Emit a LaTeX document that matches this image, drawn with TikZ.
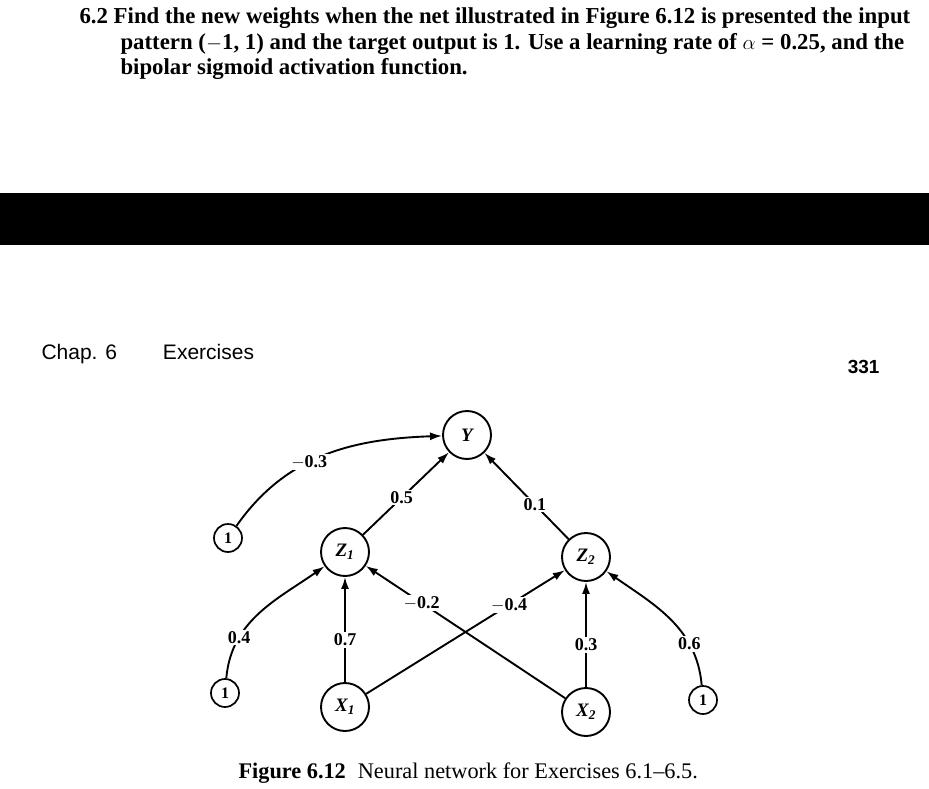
\documentclass[tikz,border=0pt]{standalone}
\usepackage{fontspec}
\setmainfont{Liberation Serif}
\newfontfamily\chapfont{Liberation Sans}
\usetikzlibrary{arrows.meta}
\begin{document}
\begin{tikzpicture}[x=1pt,y=-1pt,
  neuron/.style={circle,draw,line width=1.9pt,minimum size=48pt,inner sep=0pt,font=\fontsize{19}{19}\selectfont\bfseries\itshape},
  bias/.style={circle,draw,line width=1.7pt,minimum size=28pt,inner sep=0pt,font=\fontsize{16}{16}\selectfont\bfseries},
  wire/.style={line width=1.9pt,-{Latex[length=12pt,width=8pt]}},
  wl/.style={fill=white,inner sep=1.5pt,font=\fontsize{18}{18}\selectfont\bfseries}]
\useasboundingbox (0,0) rectangle (929,789);
\fill[black] (0,193) rectangle (929,245);
\node[anchor=west,font=\fontsize{22.8}{22.8}\selectfont\bfseries] at (76,18) {6.2 Find the new weights when the net illustrated in Figure 6.12 is presented the input};
\node[anchor=west,font=\fontsize{22.8}{22.8}\selectfont\bfseries] at (117,44) {pattern ($-$1, 1) and the target output is 1. Use a learning rate of $\alpha$ = 0.25, and the};
\node[anchor=west,font=\fontsize{22.8}{22.8}\selectfont\bfseries] at (117,69) {bipolar sigmoid activation function.};
\node[anchor=west,font=\chapfont\fontsize{21}{21}\selectfont] at (38,354) {Chap. 6\hspace{46pt}Exercises};
\node[anchor=east,font=\chapfont\fontsize{19}{19}\selectfont\bfseries] at (883,367) {331};
\node[neuron] (Y) at (467,435) {Y};
\node[neuron] (Z1) at (345,552) {Z\textsubscript{1}};
\node[neuron] (Z2) at (586,557) {Z\textsubscript{2}};
\node[neuron] (X1) at (345,707) {X\textsubscript{1}};
\node[neuron] (X2) at (586,712) {X\textsubscript{2}};
\node[bias] (B0) at (228,538) {1};
\node[bias] (B1) at (225,693) {1};
\node[bias] (B2) at (703,700) {1};
\draw[wire] (B0) to[out=55,in=182] node[wl,pos=0.42] {$-$0.3} (Y);
\draw[wire] (Z1) -- node[wl,pos=0.45] {0.5} (Y);
\draw[wire] (Z2) -- node[wl,pos=0.4] {0.1} (Y);
\draw[wire] (B1) to[out=85,in=215] node[wl,pos=0.28] {0.4} (Z1);
\draw[wire] (X1) -- node[wl,pos=0.4] {0.7} (Z1);
\draw[wire] (X2) -- node[wl,pos=0.4] {0.3} (Z2);
\draw[wire] (B2) to[out=95,in=-35] node[wl,pos=0.28] {0.6} (Z2);
\draw[wire] (X2) -- node[wl,pos=0.72] {$-$0.2} (Z1);
\draw[wire] (X1) -- node[wl,pos=0.72] {$-$0.4} (Z2);
\node[anchor=west,font=\fontsize{22.3}{22.3}\selectfont] at (235,773) {\textbf{Figure 6.12}\hspace{12pt}Neural network for Exercises 6.1--6.5.};
\end{tikzpicture}
\end{document}
